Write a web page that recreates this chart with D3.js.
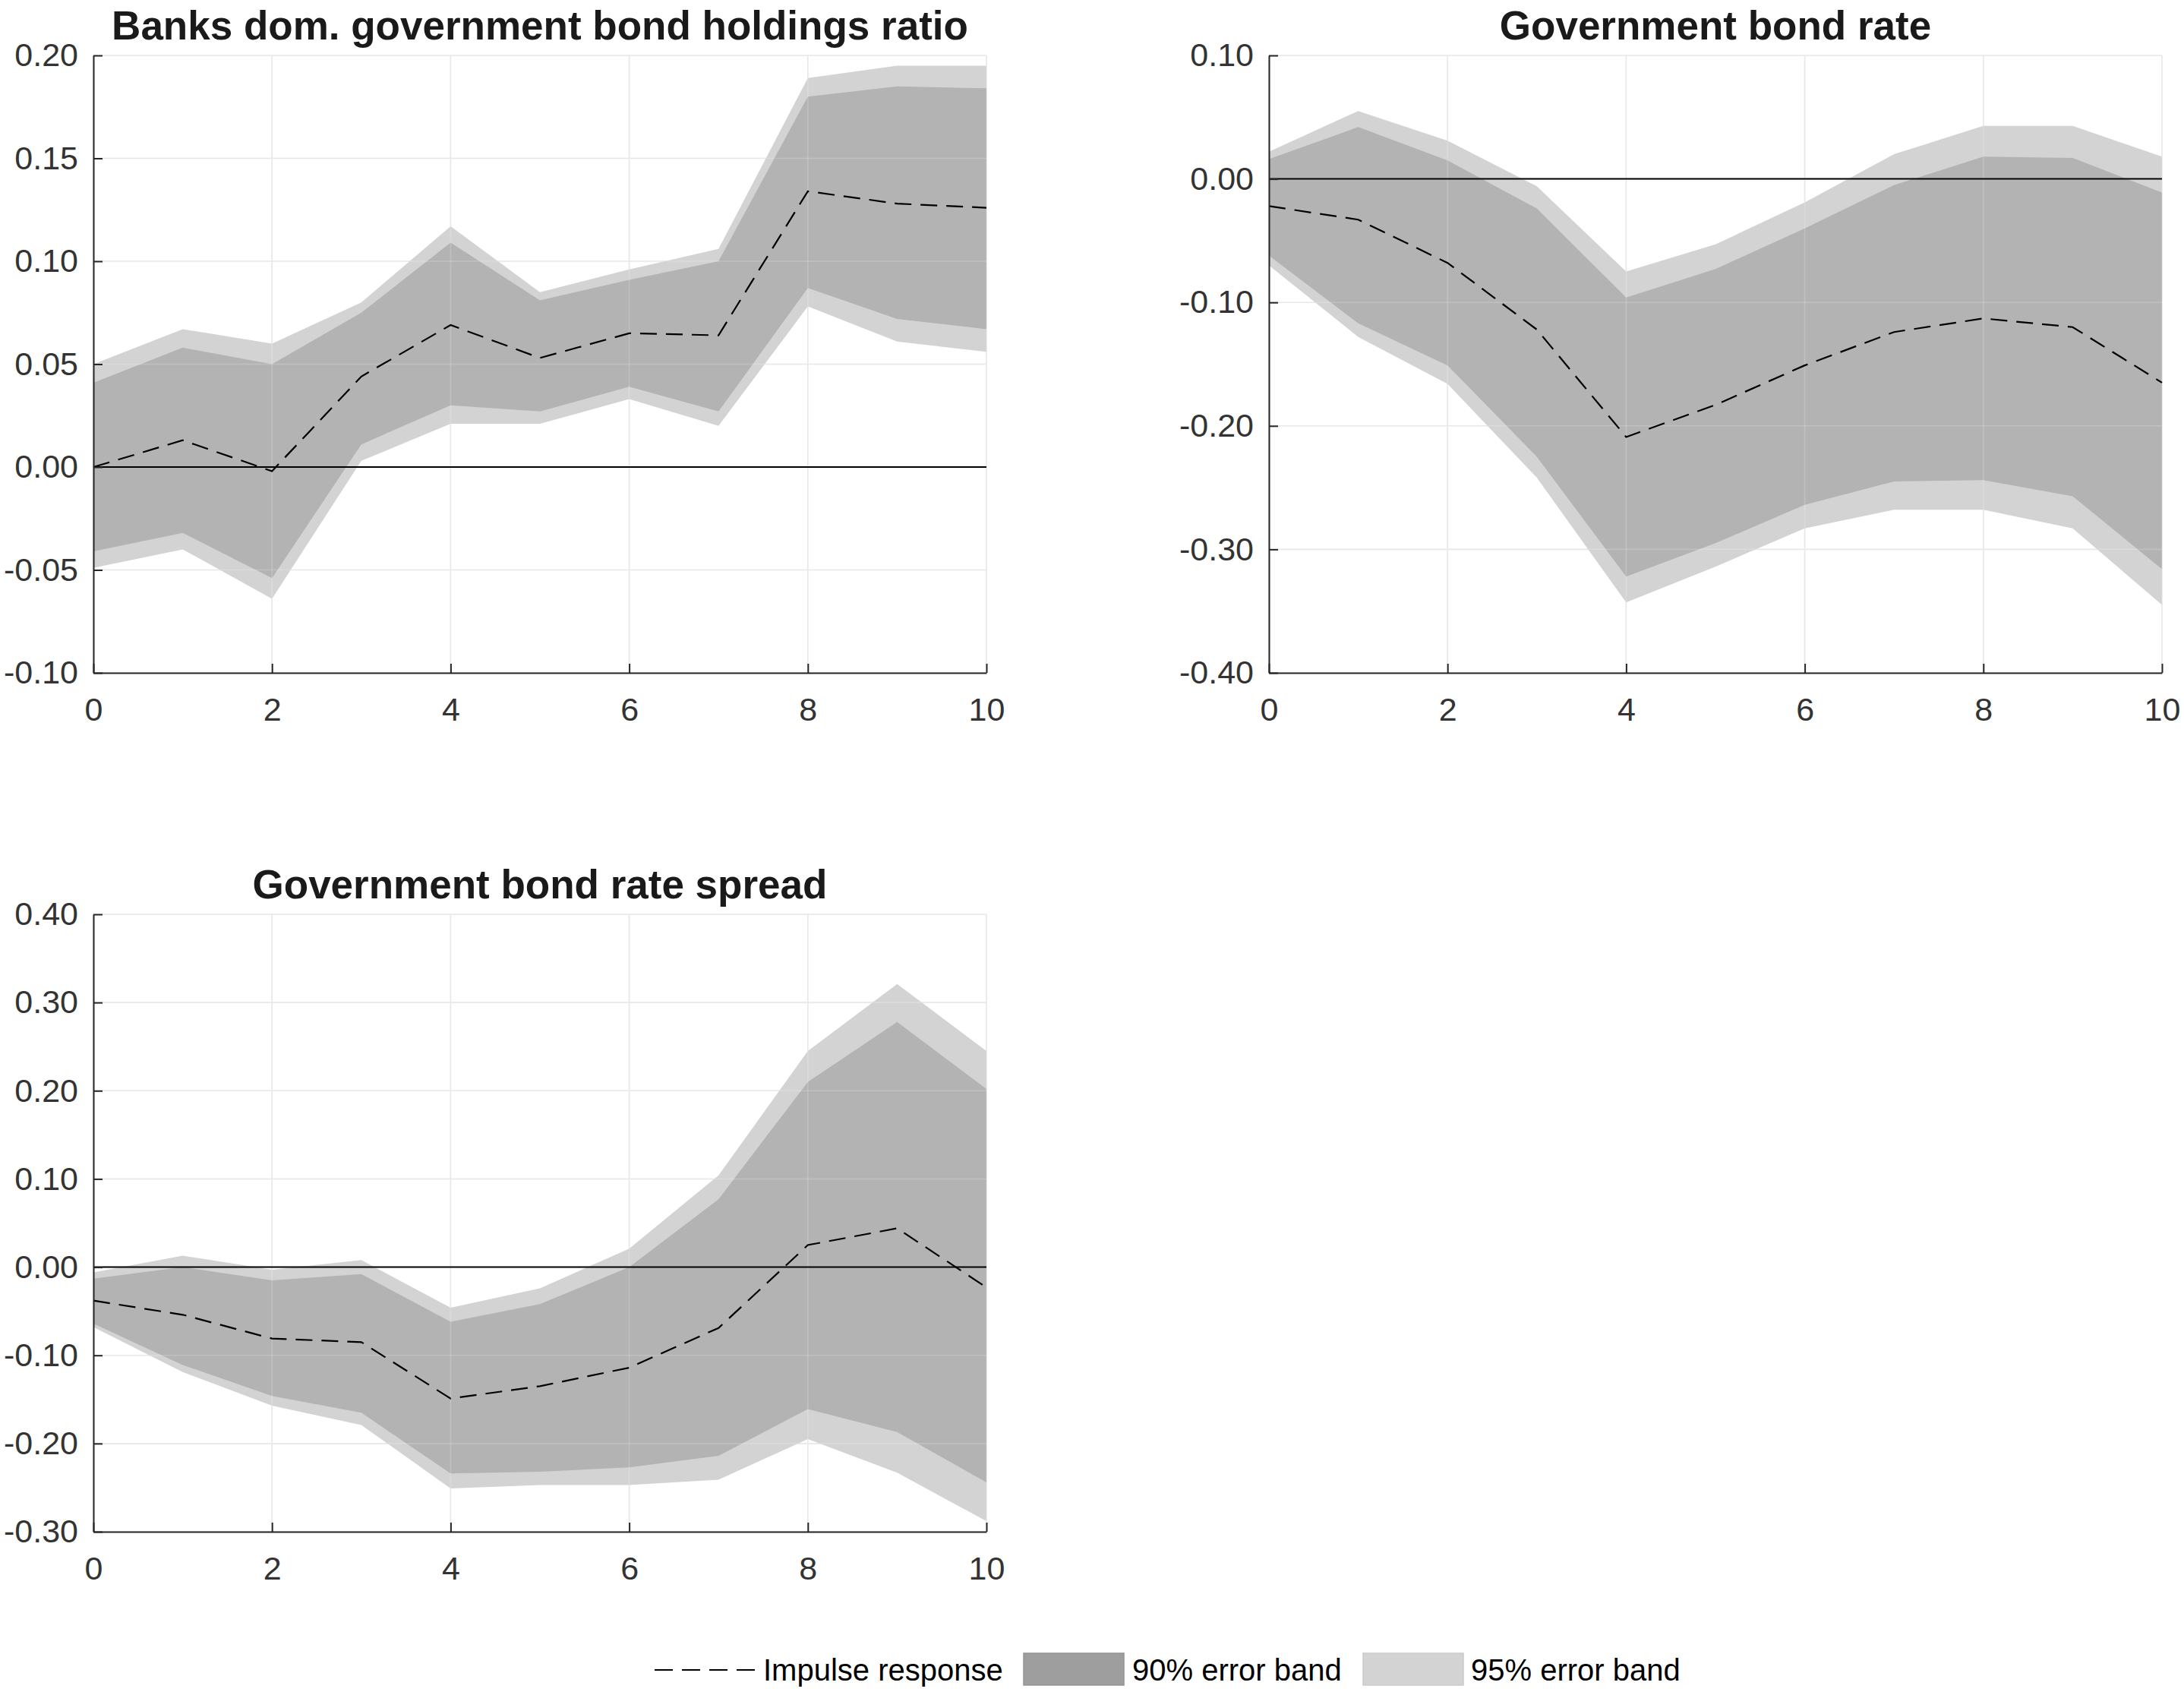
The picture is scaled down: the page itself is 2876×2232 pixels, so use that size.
<!DOCTYPE html>
<html>
<head>
<meta charset="utf-8">
<script src="https://cdn.jsdelivr.net/npm/d3@7"></script>
<style>
  html, body { margin: 0; padding: 0; background: #fff; }
  svg { display: block; }
</style>
</head>
<body>
<svg id="chart" width="2876" height="2232"></svg>
<script>
// horizons on the x axis
const horizons = [0, 1, 2, 3, 4, 5, 6, 7, 8, 9, 10];
const xTicks = [0, 2, 4, 6, 8, 10];

// Banks dom. government bond holdings ratio
const holdIrf  = [0.000, 0.013, -0.002, 0.044, 0.069, 0.053, 0.065, 0.064, 0.134, 0.128, 0.126];
const holdHi90 = [0.041, 0.058, 0.050, 0.075, 0.109, 0.081, 0.091, 0.100, 0.180, 0.185, 0.184];
const holdLo90 = [-0.041, -0.032, -0.054, 0.011, 0.030, 0.027, 0.039, 0.027, 0.087, 0.072, 0.067];
const holdHi95 = [0.050, 0.067, 0.060, 0.080, 0.117, 0.085, 0.096, 0.106, 0.189, 0.195, 0.195];
const holdLo95 = [-0.049, -0.040, -0.064, 0.003, 0.021, 0.021, 0.033, 0.020, 0.078, 0.061, 0.056];
const holdTicks = [-0.10, -0.05, 0.00, 0.05, 0.10, 0.15, 0.20];

// Government bond rate
const rateIrf  = [-0.022, -0.033, -0.068, -0.122, -0.209, -0.183, -0.151, -0.124, -0.113, -0.120, -0.165];
const rateHi90 = [0.016, 0.042, 0.015, -0.024, -0.096, -0.073, -0.040, -0.005, 0.018, 0.017, -0.011];
const rateLo90 = [-0.062, -0.117, -0.151, -0.225, -0.322, -0.295, -0.264, -0.245, -0.244, -0.257, -0.316];
const rateHi95 = [0.022, 0.055, 0.031, -0.006, -0.075, -0.053, -0.019, 0.020, 0.043, 0.043, 0.018];
const rateLo95 = [-0.070, -0.128, -0.166, -0.242, -0.343, -0.314, -0.283, -0.268, -0.268, -0.283, -0.345];
const rateTicks = [-0.40, -0.30, -0.20, -0.10, 0.00, 0.10];

// Government bond rate spread
const spreadIrf  = [-0.038, -0.054, -0.081, -0.085, -0.149, -0.135, -0.114, -0.069, 0.025, 0.044, -0.023];
const spreadHi90 = [-0.013, 0.000, -0.015, -0.008, -0.062, -0.042, 0.000, 0.077, 0.210, 0.278, 0.202];
const spreadLo90 = [-0.064, -0.111, -0.146, -0.165, -0.234, -0.232, -0.227, -0.214, -0.161, -0.187, -0.244];
const spreadHi95 = [-0.006, 0.013, -0.003, 0.008, -0.046, -0.024, 0.021, 0.104, 0.245, 0.321, 0.245];
const spreadLo95 = [-0.068, -0.119, -0.157, -0.179, -0.251, -0.247, -0.247, -0.241, -0.195, -0.233, -0.288];
const spreadTicks = [-0.30, -0.20, -0.10, 0.00, 0.10, 0.20, 0.30, 0.40];

const legendLabels = ['Impulse response', '90% error band', '95% error band'];

const C90 = '#b3b3b3', C95 = '#d3d3d3', INK = '#262626';
const tickFont = '"Liberation Sans", Arial, sans-serif';

const panels = [
  { title: 'Banks dom. government bond holdings ratio', irf: holdIrf, lo90: holdLo90, hi90: holdHi90,
    lo95: holdLo95, hi95: holdHi95, ticks: holdTicks, left: 123, top: 73 },
  { title: 'Government bond rate', irf: rateIrf, lo90: rateLo90, hi90: rateHi90,
    lo95: rateLo95, hi95: rateHi95, ticks: rateTicks, left: 1671, top: 73 },
  { title: 'Government bond rate spread', irf: spreadIrf, lo90: spreadLo90, hi90: spreadHi90,
    lo95: spreadLo95, hi95: spreadHi95, ticks: spreadTicks, left: 123, top: 1204 },
];
const W = 1176, H = 813;

const svg = d3.select('#chart');

panels.forEach(p => {
  const g = svg.append('g').attr('transform', `translate(${p.left},${p.top})`);
  const x = d3.scaleLinear().domain([0, 10]).range([0, W]);
  const y = d3.scaleLinear().domain(d3.extent(p.ticks)).range([H, 0]);

  // grid behind
  const grid = g.append('g').attr('stroke', '#e3e3e3').attr('stroke-width', 1.6);
  grid.selectAll('line.gx').data(xTicks).enter().append('line')
    .attr('x1', d => x(d)).attr('x2', d => x(d)).attr('y1', 0).attr('y2', H);
  grid.selectAll('line.gy').data(p.ticks).enter().append('line')
    .attr('x1', 0).attr('x2', W).attr('y1', d => y(d)).attr('y2', d => y(d));

  const band = (lo, hi) => d3.area()
    .x((d, i) => x(horizons[i]))
    .y0((d, i) => y(lo[i]))
    .y1((d, i) => y(hi[i]))(horizons);

  g.append('path').attr('d', band(p.lo95, p.hi95)).attr('fill', C95);
  g.append('path').attr('d', band(p.lo90, p.hi90)).attr('fill', C90);

  // faint grid showing through the bands
  const grid2 = g.append('g').attr('stroke', '#ffffff').attr('stroke-opacity', 0.18).attr('stroke-width', 1.6);
  grid2.selectAll('line.gx').data(xTicks).enter().append('line')
    .attr('x1', d => x(d)).attr('x2', d => x(d)).attr('y1', 0).attr('y2', H);
  grid2.selectAll('line.gy').data(p.ticks).enter().append('line')
    .attr('x1', 0).attr('x2', W).attr('y1', d => y(d)).attr('y2', d => y(d));

  // zero line
  g.append('line').attr('x1', 0).attr('x2', W).attr('y1', y(0)).attr('y2', y(0))
    .attr('stroke', '#000').attr('stroke-width', 2);

  // impulse response
  const line = d3.line().x((d, i) => x(horizons[i])).y(d => y(d));
  g.append('path').attr('d', line(p.irf)).attr('fill', 'none')
    .attr('stroke', '#000').attr('stroke-width', 2.2).attr('stroke-dasharray', '22,12');

  // axes (ticks inside)
  const yAxis = d3.axisLeft(y).tickValues(p.ticks).tickFormat(d3.format('.2f'))
    .tickSizeInner(-12).tickSizeOuter(0).tickPadding(20);
  const xAxis = d3.axisBottom(x).tickValues(xTicks).tickFormat(d3.format('d'))
    .tickSizeInner(-12).tickSizeOuter(0).tickPadding(32);

  const ya = g.append('g').call(yAxis);
  const xa = g.append('g').attr('transform', `translate(0,${H})`).call(xAxis);
  [ya, xa].forEach(a => {
    a.select('.domain').attr('stroke', INK).attr('stroke-width', 2);
    a.selectAll('.tick line').attr('stroke', INK).attr('stroke-width', 2);
    a.selectAll('.tick text').attr('fill', '#333').style('font-family', tickFont)
      .style('font-size', '43px');
  });
  ya.selectAll('.tick text').text(d => d3.format('.2f')(d).replace('−', '-'));
  xa.selectAll('.tick text').attr('dy', '0.71em');

  g.append('text').attr('x', W / 2).attr('y', -21).attr('text-anchor', 'middle')
    .style('font-family', tickFont).style('font-weight', 'bold').style('font-size', '53px')
    .attr('fill', '#1a1a1a').text(p.title);
});

// legend
const lg = svg.append('g').attr('transform', 'translate(0,2199)');
lg.append('line').attr('x1', 862).attr('x2', 996).attr('y1', 0).attr('y2', 0)
  .attr('stroke', '#000').attr('stroke-width', 2.2).attr('stroke-dasharray', '24,12');
const texts = [1005, 1491, 1937];
lg.append('rect').attr('x', 1348).attr('y', -22).attr('width', 132).attr('height', 42)
  .attr('fill', '#9e9e9e').attr('stroke', '#949494').attr('stroke-width', 1.5);
lg.append('rect').attr('x', 1795).attr('y', -22).attr('width', 132).attr('height', 42)
  .attr('fill', C95).attr('stroke', '#cacaca').attr('stroke-width', 1.5);
legendLabels.forEach((t, i) => {
  lg.append('text').attr('x', texts[i]).attr('y', 0).attr('dy', '0.35em')
    .style('font-family', tickFont).style('font-size', '40px')
    .attr('fill', '#000').text(t);
});
</script>
</body>
</html>
